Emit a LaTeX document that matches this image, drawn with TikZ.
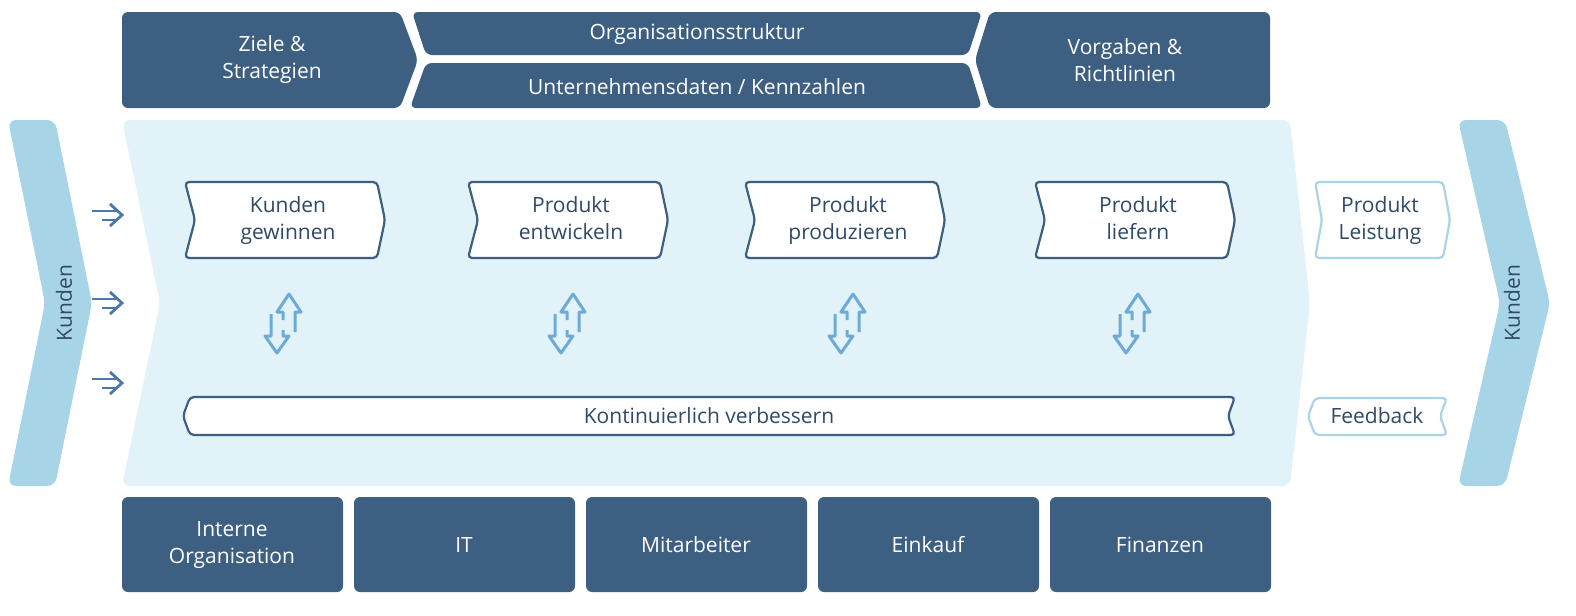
\documentclass[tikz,border=0pt]{standalone}
\usepackage{fontspec}
\setmainfont{Open Sans}
\usetikzlibrary{arrows.meta}
\definecolor{dk}{HTML}{3D5F82}
\definecolor{band}{HTML}{E1F2F8}
\definecolor{mid}{HTML}{A7D5E7}
\definecolor{arr}{HTML}{6DAAD8}
\definecolor{sarr}{HTML}{4A78A8}
\definecolor{txt}{HTML}{2F4A66}
\tikzset{
  dkbox/.style={fill=dk,draw=none,rounded corners=3pt},
  lbl/.style={font=\fontsize{10.5pt}{13.5pt}\selectfont,align=center,text=white},
  lbld/.style={font=\fontsize{10.5pt}{13.5pt}\selectfont,align=center,text=txt},
  proc/.style={fill=white,draw=dk,line width=1.1pt,rounded corners=2pt},
  procl/.style={fill=white,draw=mid,line width=1.1pt,rounded corners=2pt},
  darr/.style={draw=arr,line width=1.5pt,line join=round},
  sa/.style={draw=sarr,line width=1.4pt},
}
\begin{document}
\begin{tikzpicture}[x=0.5pt,y=-0.5pt]
\useasboundingbox (0,0) rectangle (1576,616);
% top
\fill[dkbox] (122,12) -- (400,12) -- (418,60) -- (400,108) -- (122,108) -- cycle;
\node[lbl] (ziele) at (272,60) {Ziele \&\\Strategien};
\fill[dkbox] (412,12) -- (982,12) -- (968,55) -- (426,55) -- cycle;
\node[lbl] (org) at (697,34) {Organisationsstruktur};
\fill[dkbox] (426,63) -- (968,63) -- (982,108) -- (410,108) -- cycle;
\node[lbl] (daten) at (697,87) {Unternehmensdaten / Kennzahlen};
\fill[dkbox] (990,12) -- (1270,12) -- (1270,108) -- (990,108) -- (975,60) -- cycle;
\node[lbl] (vorg) at (1125,60) {Vorgaben \&\\Richtlinien};
% band
\fill[band,rounded corners=4pt] (122,120) -- (1290,120) -- (1310,303) -- (1290,486) -- (122,486) -- (160,303) -- cycle;
% Kunden sides
\fill[mid,rounded corners=4pt] (8,120) -- (55,120) -- (92,303) -- (55,486) -- (8,486) -- (45,303) -- cycle;
\node[lbld,rotate=90] (kl) at (64,303) {Kunden};
\fill[mid,rounded corners=4pt] (1458,120) -- (1505,120) -- (1550,303) -- (1505,486) -- (1458,486) -- (1500,303) -- cycle;
\node[lbld,rotate=90] (kr) at (1512,303) {Kunden};
% small arrows
\foreach \y in {215,303,383}{
  \draw[sa] (92,\y-4) -- (118,\y-4);
  \draw[sa] (102,\y+5) -- (118,\y+5);
  \draw[sa] (110,\y-11) -- (122,\y) -- (110,\y+11);
}
% process boxes
\foreach \xa/\xb/\t/\n in {185/385/{Kunden\\gewinnen}/p1,468/668/{Produkt\\entwickeln}/p2,745/945/{Produkt\\produzieren}/p3,1035/1235/{Produkt\\liefern}/p4}{
  \draw[proc] (\xa,182) -- (\xb-8,182) -- (\xb,220) -- (\xb-8,258) -- (\xa,258) -- (\xa+10,220) -- cycle;
  \node[lbld] (\n) at ({(\xa+\xb)/2+3},221) {\strut\t\strut};
}
\draw[procl] (1315,182) -- (1443,182) -- (1450,220) -- (1443,258) -- (1315,258) -- (1322,220) -- cycle;
\node[lbld] (leist) at (1380,221) {\strut Produkt\\Leistung\strut};
\draw[procl] (1315,398) -- (1447,398) -- (1440,416) -- (1447,435) -- (1315,435) -- (1308,416) -- cycle;
\node[lbld] (fb) at (1377,416) {Feedback};
\draw[proc] (190,397) -- (1235,397) -- (1228,416) -- (1235,435) -- (190,435) -- (183,416) -- cycle;
\node[lbld] (kv) at (709,416) {Kontinuierlich verbessern};
% double arrows
\foreach \x in {283,567,847,1132}{
  \draw[darr] (\x+12,332) -- (\x+12,312) -- (\x+18,312) -- (\x+6,294) -- (\x-6,312) -- (\x,312) -- (\x,320);
  \draw[darr] (\x-12,314) -- (\x-12,336) -- (\x-18,336) -- (\x-6,353) -- (\x+6,336) -- (\x,336) -- (\x,330);
}
% bottom
\foreach \xa/\t/\n in {122/{Interne\\Organisation}/b1,354/IT/b2,586/Mitarbeiter/b3,818/Einkauf/b4,1050/Finanzen/b5}{
  \fill[dkbox] (\xa,497) rectangle (\xa+221,592);
  \node[lbl] (\n) at (\xa+110,545) {\t};
}
\end{tikzpicture}
\end{document}
